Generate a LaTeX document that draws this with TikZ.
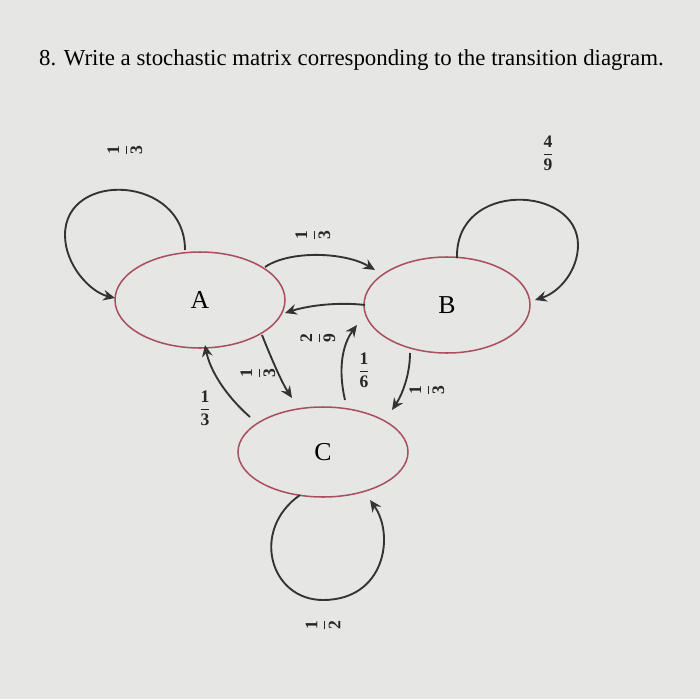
\documentclass[tikz,border=0pt]{standalone}
\usepackage{fontspec}
\setmainfont{Liberation Serif}
\usetikzlibrary{arrows.meta}
\definecolor{bg}{HTML}{E6E6E4}
\definecolor{rim}{HTML}{A8505E}
\newcommand{\fr}[2]{$\displaystyle\frac{\mathbf{#1}}{\mathbf{#2}}$}
\begin{document}
\begin{tikzpicture}[x=0.03cm,y=-0.03cm,
  ar/.style={draw=black!80,line width=1.6pt,-{Stealth[length=10pt,width=9pt]}},
  lab/.style={font=\fontsize{15}{18}\selectfont,text=black!85,inner sep=1pt}]
\fill[bg] (0,0) rectangle (700,699);
\useasboundingbox (0,0) rectangle (700,699);
\node[anchor=west,font=\fontsize{19.5}{22}\selectfont] (t) at (35,60) {8. Write a stochastic matrix corresponding to the transition diagram.};
\draw[rim,line width=1.3pt,fill=bg] (200,300) ellipse [x radius=85,y radius=48];
\draw[rim,line width=1.3pt,fill=bg] (447,305) ellipse [x radius=83,y radius=48];
\draw[rim,line width=1.3pt,fill=bg] (323,452) ellipse [x radius=85,y radius=45];
\node[font=\fontsize{22}{24}\selectfont] (A) at (200,300) {A};
\node[font=\fontsize{22}{24}\selectfont] (B) at (447,305) {B};
\node[font=\fontsize{22}{24}\selectfont] (C) at (323,452) {C};
\coordinate (a1) at (185,250); \coordinate (a2) at (115,298);
\draw[ar] (a1) .. controls (185,175) and (65,170) .. (65,235) .. controls (65,265) and (90,292) .. (a2);
\coordinate (b1) at (457,258); \coordinate (b2) at (535,300);
\draw[ar] (b1) .. controls (455,180) and (578,185) .. (578,245) .. controls (578,270) and (560,292) .. (b2);
\coordinate (c1) at (300,495); \coordinate (c2) at (370,500);
\draw[ar] (c1) .. controls (250,530) and (270,600) .. (323,600) .. controls (385,600) and (395,535) .. (c2);
\draw[ar] (265,267) .. controls (290,250) and (345,252) .. (375,270);
\draw[ar] (365,305) .. controls (340,302) and (310,305) .. (285,313);
\draw[ar] (262,335) .. controls (272,360) and (282,383) .. (292,398);
\draw[ar] (250,417) .. controls (225,395) and (210,370) .. (205,345);
\draw[ar] (345,400) .. controls (338,370) and (342,345) .. (357,325);
\draw[ar] (410,353) .. controls (410,375) and (402,395) .. (392,410);
\node[lab,rotate=90] (l1) at (125,150) {\fr{1}{3}};
\node[lab] (l2) at (548,153) {\fr{4}{9}};
\node[lab,rotate=90] (l3) at (313,235) {\fr{1}{3}};
\node[lab,rotate=90] (l4) at (318,338) {\fr{2}{9}};
\node[lab,rotate=90] (l5) at (258,373) {\fr{1}{3}};
\node[lab] (l6) at (205,408) {\fr{1}{3}};
\node[lab] (l7) at (364,370) {\fr{1}{6}};
\node[lab,rotate=90] (l8) at (427,390) {\fr{1}{3}};
\node[lab,rotate=90] (l9) at (323,625) {\fr{1}{2}};
\end{tikzpicture}
\end{document}
